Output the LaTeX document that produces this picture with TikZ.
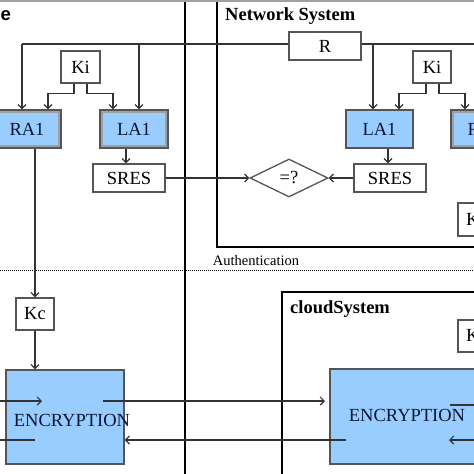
\documentclass[tikz,border=0pt]{standalone}
\usepackage{fontspec}
\setmainfont{Liberation Serif}
\newfontfamily\sansb{Liberation Sans}
\usetikzlibrary{arrows.meta,shapes.geometric}
\definecolor{encblue}{HTML}{99CCFF}
\definecolor{lnc}{HTML}{333333}
\definecolor{bdc}{HTML}{555555}
\definecolor{grb}{HTML}{A0A0A0}
\definecolor{txc}{HTML}{0B1633}
\begin{document}
\begin{tikzpicture}[x=1pt,y=-1pt,
 box/.style={draw=bdc,line width=1.3pt,fill=white,inner sep=0pt,font=\fontsize{18.5}{20}\selectfont},
 bluebox/.style={box,fill=encblue,text=txc},
 graybox/.style={box,fill=grb,text=txc,path picture={\fill[encblue] ([shift={(3pt,-3pt)}]path picture bounding box.north west) rectangle ([shift={(-3pt,3pt)}]path picture bounding box.south east);}},
 arr/.style={draw=lnc,line width=1.2pt,-{Straight Barb[length=4pt,width=8pt]}},
 ln/.style={draw=lnc,line width=1.2pt},
 frame/.style={draw=black,line width=2.5pt},
 title/.style={font=\fontsize{18.5}{20}\selectfont\bfseries,inner sep=0pt}
]
\useasboundingbox (0,0) rectangle (474,474);
\clip (0,0) rectangle (474,474);
\fill[white] (0,0) rectangle (474,474);

% containers
\draw[frame] (-10,-5) rectangle (185,520);
\draw[frame] (217,-5) rectangle (520,247);
\draw[frame] (282,292) rectangle (520,520);
\draw[grb,line width=2.5pt] (0,1.2) -- (474,1.2);
\draw[densely dotted,line width=1pt] (0,270) -- (474,270);

% titles
\node[title,font=\sansb\fontsize{18.5}{20}\selectfont\bfseries,anchor=base east] (tdev) at (11,20) {e};
\node[title,anchor=base west] (tnet) at (225,20) {Network System};
\node[title,anchor=base west] (tcloud) at (290,313) {cloudSystem};
\node[inner sep=0pt,anchor=base,font=\fontsize{14.5}{16}\selectfont] (tauth) at (256,265) {Authentication};

% device side nodes
\node[box,minimum width=39pt,minimum height=32pt] (KiL) at (80.5,67) {Ki};
\node[graybox,minimum width=68pt,minimum height=38pt] (RA1L) at (27,129) {RA1};
\node[graybox,minimum width=68pt,minimum height=38pt] (LA1L) at (134,129) {LA1};
\node[box,minimum width=72pt,minimum height=28pt] (SRESL) at (129,178) {SRES};
\node[box,minimum width=38pt,minimum height=32pt] (KcL) at (35,314) {Kc};
\node[bluebox,minimum width=118pt,minimum height=94pt] (ENCL) at (65,417) {};
\node[inner sep=0pt,text=txc,font=\fontsize{18.5}{20}\selectfont] (ENCLt) at (72,420) {ENCRYPTION};

% network side nodes
\node[box,minimum width=72pt,minimum height=28pt] (R) at (325,46) {R};
\node[box,minimum width=38pt,minimum height=32pt] (KiN) at (432,67) {Ki};
\node[bluebox,minimum width=67pt,minimum height=38pt] (LA1N) at (379.5,129) {LA1};
\node[graybox,minimum width=68pt,minimum height=38pt] (RA1N) at (485,129) {RA1};
\node[box,minimum width=72pt,minimum height=28pt] (SRESN) at (390,178) {SRES};
\node[box,shape=diamond,aspect=2.05,minimum width=78pt,minimum height=38pt] (EQ) at (289,178) {=?};
\node[box,minimum width=38pt,minimum height=33pt] (KcN) at (477,219.5) {Kc};

% cloud side nodes
\node[box,minimum width=38pt,minimum height=32pt] (KcC) at (477,336) {Kc};
\node[bluebox,minimum width=154pt,minimum height=95pt] (ENCC) at (407,416.5) {};
\node[inner sep=0pt,text=txc,font=\fontsize{18.5}{20}\selectfont] (ENCCt) at (407,415) {ENCRYPTION};

% random number bus
\coordinate (busL) at (22,44);
\coordinate (busR) at (480,44);
\draw[ln] (busL) -- (busL -| R.west);
\draw[ln] (busR -| R.east) -- (busR);
\draw[arr] (busL) -- ([xshift=-5pt]RA1L.north);
\draw[arr] ([xshift=5pt]LA1L.north |- busL) -- ([xshift=5pt]LA1L.north);
\draw[arr] ([xshift=-6.5pt]LA1N.north |- busL) -- ([xshift=-6.5pt]LA1N.north);

% Ki branches
\draw[arr] ([xshift=-6.5pt]KiL.south) -- ++(0,10) -| ([xshift=21pt]RA1L.north);
\draw[arr] ([xshift=6.5pt]KiL.south) -- ++(0,10) -| ([xshift=-21pt]LA1L.north);
\draw[arr] ([xshift=-6pt]KiN.south) -- ++(0,10) -| ([xshift=19.5pt]LA1N.north);
\draw[arr] ([xshift=7pt]KiN.south) -- ++(0,10) -| ([xshift=-20pt]RA1N.north);

% SRES
\draw[arr] ([xshift=-8pt]LA1L.south) -- ([xshift=-8pt]LA1L.south |- SRESL.north);
\draw[arr] ([xshift=8.5pt]LA1N.south) -- ([xshift=8.5pt]LA1N.south |- SRESN.north);
\draw[arr] (SRESL.east) -- (EQ.west);
\draw[arr] (SRESN.west) -- (EQ.east);

% Kc
\draw[arr] ([xshift=8pt]RA1L.south) -- (KcL.north);
\draw[arr] (KcL.south) -- (KcL.south |- ENCL.north);

% encryption data paths
\coordinate (inA) at (-5,401);
\coordinate (inAe) at (42,401);
\coordinate (outA) at (35,440);
\coordinate (outAe) at (-5,440);
\coordinate (midA) at (103,401);
\coordinate (midAe) at (325,401);
\coordinate (midB) at (346,440);
\coordinate (cA) at (450,405);
\coordinate (cAe) at (480,405);
\coordinate (cB) at (480,440);
\coordinate (cBe) at (449,440);
\draw[arr] (inA) -- (inAe);
\draw[ln] (outA) -- (outAe);
\draw[arr] (midA) -- (midAe);
\draw[arr] (midB) -- (midB -| ENCL.east);
\draw[ln] (cA) -- (cAe);
\draw[arr] (cB) -- (cBe);
\end{tikzpicture}
\end{document}
